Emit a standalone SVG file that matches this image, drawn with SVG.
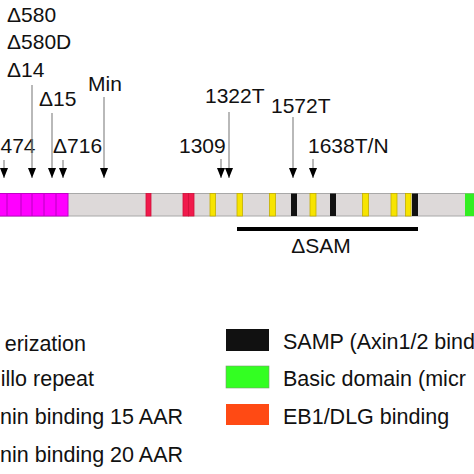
<svg xmlns="http://www.w3.org/2000/svg" width="474" height="474" viewBox="0 0 474 474">
<defs>
<style>
text{font-family:"Liberation Sans",Arial,sans-serif;fill:#111}
.lbl{font-size:21px}
.leg{font-size:21.5px}
.stem{stroke:#8a8a8a;stroke-width:1.2;fill:none}
.mag{fill:#ff00ff;stroke:#c000c8;stroke-width:1}
.red{fill:#f01a4c;stroke:#d0103a;stroke-width:0.8}
.yel{fill:#f7e400;stroke:#c2ae00;stroke-width:0.8}
.blk{fill:#111}
</style>
<marker id="ah" viewBox="0 0 10 8" refX="10" refY="4" markerWidth="10" markerHeight="8" markerUnits="userSpaceOnUse" orient="auto">
<path d="M0,0 L10,4 L0,8 Z" fill="#000"/>
</marker>
</defs>
<rect width="474" height="474" fill="#fff"/>

<g id="protein">
<rect x="-2" y="193.5" width="478" height="22.5" fill="#ddd9d9" stroke="#a8a8a8" stroke-width="1"/>
<rect class="mag" x="-2" y="193.5" width="70" height="22.5"/>
<path d="M7,194 V216 M21,194 V216 M32,194 V216 M44,194 V216 M56,194 V216" stroke="#b800c0" stroke-width="1"/>
<rect class="red" x="146" y="193.5" width="5" height="22.5"/>
<rect class="red" x="183" y="193.5" width="5.5" height="22.5"/>
<rect class="red" x="188.5" y="193.5" width="5.5" height="22.5"/>
<rect class="yel" x="210" y="193.5" width="5.5" height="22.5"/>
<rect class="yel" x="237" y="193.5" width="5.5" height="22.5"/>
<rect class="yel" x="269.5" y="193.5" width="6" height="22.5"/>
<rect class="blk" x="291" y="193.5" width="6" height="22.5"/>
<rect class="yel" x="310" y="193.5" width="6" height="22.5"/>
<rect class="blk" x="330" y="193.5" width="6" height="22.5"/>
<rect class="yel" x="362.5" y="193.5" width="6" height="22.5"/>
<rect class="yel" x="391" y="193.5" width="6" height="22.5"/>
<rect class="yel" x="405.5" y="193.5" width="5.5" height="22.5"/>
<rect class="blk" x="412" y="193.5" width="6" height="22.5"/>
<rect x="465" y="193.5" width="11" height="22.5" fill="#33ee22"/>
</g>

<g id="dsam">
<rect x="237" y="227" width="181" height="4" fill="#000"/>
<text class="lbl" x="321" y="253" text-anchor="middle">ΔSAM</text>
</g>

<g id="labels">
<text class="lbl" x="7" y="22">Δ580</text>
<text class="lbl" x="7" y="49">Δ580D</text>
<text class="lbl" x="7" y="77">Δ14</text>
<text class="lbl" x="88" y="91">Min</text>
<text class="lbl" x="39" y="106">Δ15</text>
<text class="lbl" x="0.5" y="153">474</text>
<text class="lbl" x="53" y="153">Δ716</text>
<text class="lbl" x="179" y="153">1309</text>
<text class="lbl" x="205" y="103">1322T</text>
<text class="lbl" x="271" y="113">1572T</text>
<text class="lbl" x="308" y="153">1638T/N</text>
</g>

<g id="connectors">
<line class="stem" x1="4" y1="160" x2="4" y2="178" marker-end="url(#ah)"/>
<line class="stem" x1="32" y1="85" x2="32" y2="178" marker-end="url(#ah)"/>
<line class="stem" x1="52" y1="113" x2="52" y2="178" marker-end="url(#ah)"/>
<line class="stem" x1="63" y1="160" x2="63" y2="178" marker-end="url(#ah)"/>
<line class="stem" x1="104" y1="97" x2="104" y2="178" marker-end="url(#ah)"/>
<line class="stem" x1="221" y1="159" x2="221" y2="178" marker-end="url(#ah)"/>
<line class="stem" x1="229" y1="112" x2="229" y2="178" marker-end="url(#ah)"/>
<line class="stem" x1="293" y1="117" x2="293" y2="178" marker-end="url(#ah)"/>
<line class="stem" x1="313" y1="159" x2="313" y2="178" marker-end="url(#ah)"/>
</g>

<g id="legend">
<text class="leg" x="86" y="351" text-anchor="end">erization</text>
<text class="leg" x="94" y="386" text-anchor="end">illo repeat</text>
<text class="leg" x="183" y="424" text-anchor="end">nin binding 15 AAR</text>
<text class="leg" x="183" y="462" text-anchor="end">nin binding 20 AAR</text>
<rect x="226" y="329" width="43" height="22" fill="#111"/>
<rect x="226" y="366" width="43" height="22" fill="#33ff22" stroke="#7a9a70" stroke-width="0.6"/>
<rect x="226" y="404" width="43" height="21" fill="#ff4a14"/>
<text class="leg" x="283" y="349">SAMP (Axin1/2 bind</text>
<text class="leg" x="283" y="386">Basic domain (micr</text>
<text class="leg" x="283" y="424">EB1/DLG binding</text>
</g>
</svg>
